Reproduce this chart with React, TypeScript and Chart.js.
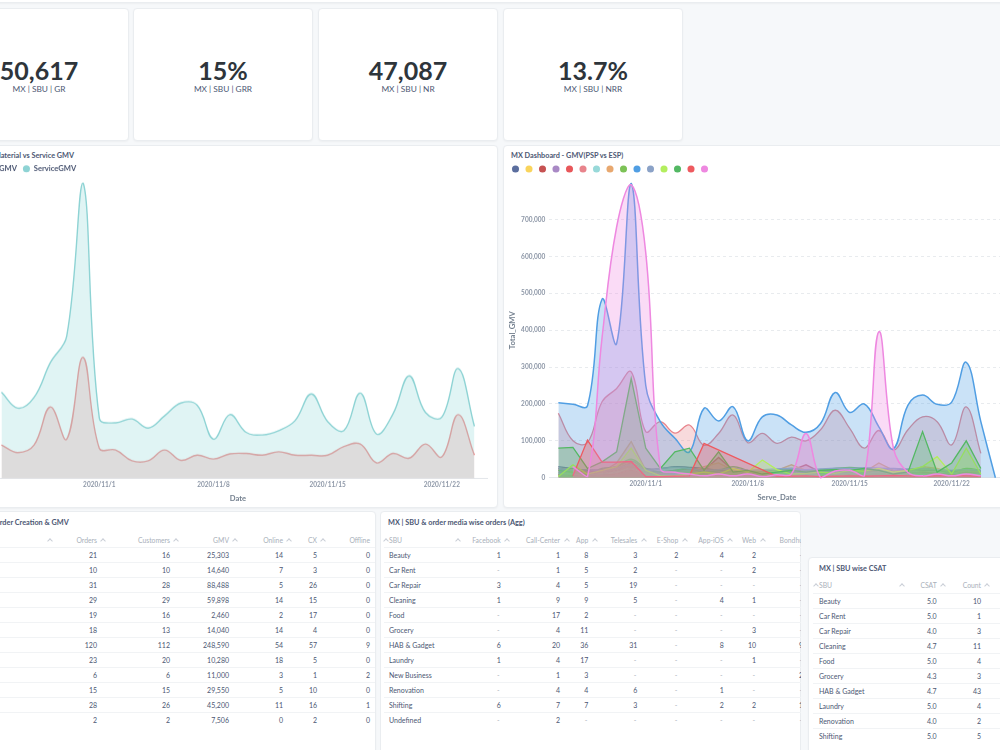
import React, { useEffect, useRef } from 'react';
import { Chart, registerables } from 'chart.js';
Chart.register(...registerables);

const FONT = 'Lato, "Noto Sans", sans-serif';
const BG = '#F6F8FA';
const INK = '#4C5773';
const TICK = '#8C96A6';

// ---------- KPI ----------
const kpiValues = ['50,617', '15%', '47,087', '13.7%'];
const kpiLabels = ['MX | SBU | GR', 'MX | SBU | GRR', 'MX | SBU | NR', 'MX | SBU | NRR'];

// ---------- dates ----------
const serveDates = [
  '2020/10/26', '2020/10/27', '2020/10/28', '2020/10/29', '2020/10/30', '2020/10/31',
  '2020/11/1', '2020/11/2', '2020/11/3', '2020/11/4', '2020/11/5', '2020/11/6', '2020/11/7',
  '2020/11/8', '2020/11/9', '2020/11/10', '2020/11/11', '2020/11/12', '2020/11/13', '2020/11/14',
  '2020/11/15', '2020/11/16', '2020/11/17', '2020/11/18', '2020/11/19', '2020/11/20', '2020/11/21',
  '2020/11/22', '2020/11/23', '2020/11/24', '2020/11/25',
];
const dateTickLabels = ['2020/11/1', '2020/11/8', '2020/11/15', '2020/11/22'];

// ---------- Material vs Service GMV (10/26 .. 11/24) ----------
const materialGMV = [77500, 60000, 77500, 166000, 91000, 281000, 70000, 66000, 41000, 41000, 66000, 42000, 54000, 45000, 57000, 58000, 54000, 62000, 54000, 54000, 54000, 74000, 80000, 36000, 58000, 47000, 80000, 50000, 148000, 54000];
const serviceGMV = [200000, 163000, 188000, 269000, 330000, 686000, 140000, 129000, 138000, 117000, 145000, 175000, 170000, 91000, 148000, 107000, 101000, 111000, 134000, 196000, 132000, 111000, 198000, 103000, 149000, 238000, 153000, 142000, 255000, 121000];

// ---------- GMV (PSP vs ESP), 15 series, values in thousands (10/26 .. 11/25) ----------
const psp01 = [30, 25, 20, 22, 30, 45, 25, 25, 30, 28, 25, 20, 18, 15, 18, 20, 22, 18, 20, 22, 20, 18, 22, 20, 22, 20, 20, 18, 20, 18, null];
const psp02 = [10, 15, 12, 10, 20, 40, 10, 8, 10, 12, 10, 15, 10, 8, 10, 12, 15, 10, 8, 10, 12, 10, 15, 12, 10, 12, 10, 8, 10, 8, null];
const psp03 = [25, 20, 15, 18, 25, 40, 20, 15, 20, 25, 20, 55, 20, 15, 12, 15, 20, 35, 15, 12, 15, 20, 18, 15, 12, 15, 12, 10, 15, 12, null];
const psp04 = [15, 12, 10, 15, 20, 35, 15, 10, 12, 10, 12, 15, 10, 12, 10, 15, 12, 10, 12, 15, 12, 10, 12, 10, 15, 12, 10, 12, 10, 12, null];
const psp05 = [8, 6, 5, 8, 10, 20, 8, 5, 6, 5, 8, 6, 5, 8, 6, 5, 8, 6, 5, 6, 8, 5, 6, 5, 8, 6, 5, 6, 8, 5, null];
const psp06 = [175, 100, 95, 206, 242, 287, 125, 152, 121, 143, 88, 120, 170, 95, 120, 93, 110, 100, 130, 183, 134, 80, 128, 75, 130, 165, 152, 89, 192, 66, null];
const psp07 = [12, 10, 8, 10, 15, 25, 10, 8, 10, 12, 8, 10, 12, 10, 8, 10, 12, 10, 8, 10, 12, 10, 15, 12, 10, 8, 3, 10, 8, 10, null];
const psp08 = [20, 15, 10, 15, 40, 98, 20, 10, 15, 15, 30, 40, 20, 15, 10, 20, 35, 20, 15, 15, 20, 15, 40, 20, 15, 30, 25, 15, 20, 15, null];
const psp09 = [20, 15, 10, 25, 30, 50, 25, 15, 20, 25, 15, 20, 30, 20, 15, 20, 25, 20, 22, 25, 28, 25, 20, 15, 20, 25, 20, 15, 25, 20, null];
const psp10 = [203, 199, 195, 484, 364, 798, 250, 152, 107, 70, 188, 154, 192, 100, 165, 170, 143, 123, 147, 231, 177, 200, 138, 78, 197, 224, 199, 205, 313, 152, 0];
const psp11 = [25, 20, 22, 20, 25, 35, 20, 25, 28, 25, 20, 22, 25, 20, 22, 24, 25, 22, 24, 26, 25, 27, 26, 25, 24, 25, 22, 20, 22, 20, null];
const psp12 = [3, 35, 10, 20, 30, 80, 20, 5, 5, 10, 15, 10, 25, 15, 48, 22, 10, 12, 15, 12, 20, 18, 25, 15, 20, 30, 57, 10, 80, 10, null];
const psp13 = [80, 82, 25, 43, 70, 269, 80, 25, 70, 80, 20, 70, 15, 20, 10, 15, 20, 15, 20, 22, 20, 25, 20, 10, 15, 125, 15, 40, 100, 25, null];
const psp14 = [null, 5, 102, 42, 42, 44, 3, 3, 4, 5, 93, null, null, null, null, 4, 4, 5, 3, 4, 5, 4, 5, 6, 5, 4, 5, 6, 5, 4, null];
const psp15 = [null, 30, 3, 380, 680, 795, 610, 25, 15, 10, 5, 10, 5, 10, 3, 8, 10, 120, 0, 18, 20, 5, 396, 80, 14, 5, 10, 5, 10, 5, null];
const pspSeries = [psp01, psp02, psp03, psp04, psp05, psp06, psp07, psp08, psp09, psp10, psp11, psp12, psp13, psp14, psp15];
const pspColors = ['#5B6E9E', '#F9D45C', '#C65252', '#A989C5', '#E8575A', '#E8848C', '#98D9D9', '#E8A86F', '#7CC256', '#509EE3', '#8BA2C7', '#B3EE5E', '#53B863', '#EE5A5F', '#EE88E0'];
const pspSmooth = [true, false, false, true, true, true, true, false, true, true, true, false, false, false, true];

// ---------- Tables ----------
const sbuNames = ['Beauty', 'Car Rent', 'Car Repair', 'Cleaning', 'Food', 'Grocery', 'HAB & Gadget', 'Laundry', 'New Business', 'Renovation', 'Shifting', 'Undefined'];
const orders = [21, 10, 31, 29, 19, 18, 120, 23, 6, 15, 28, 2];
const customers = [16, 10, 28, 29, 16, 13, 112, 20, 6, 15, 26, 2];
const gmv = [25303, 14640, 88488, 59898, 2460, 14040, 248590, 10280, 11000, 29550, 45200, 7506];
const online = [14, 7, 5, 14, 2, 14, 54, 18, 3, 5, 11, 0];
const cx = [5, 3, 26, 15, 17, 4, 57, 5, 1, 10, 16, 2];
const offline = [0, 0, 0, 0, 0, 0, 9, 0, 2, 0, 1, 0];

const mediaHeaders = ['Facebook', 'Call-Center', 'App', 'Telesales', 'E-Shop', 'App-iOS', 'Web', 'Bondhu'];
const facebook = [1, null, 3, 1, null, null, 6, 1, null, null, 6, null];
const callCenter = [1, 1, 4, 9, 17, 4, 20, 4, 1, 4, 7, 2];
const appOrders = [8, 5, 5, 9, 2, 11, 36, 17, 3, 4, 7, null];
const telesales = [3, 2, 19, 5, null, null, 31, null, null, 6, 3, null];
const eShop = [2, null, null, null, null, null, null, null, null, null, null, null];
const appIOS = [4, null, null, 4, null, null, 8, null, null, 1, 2, null];
const web = [2, 2, null, 1, null, 3, 10, 1, null, null, 2, null];
const bondhu = [null, null, null, null, null, null, 9, null, 2, null, 1, null];

const csatSbu = ['Beauty', 'Car Rent', 'Car Repair', 'Cleaning', 'Food', 'Grocery', 'HAB & Gadget', 'Laundry', 'Renovation', 'Shifting'];
const csatScore = [5.0, 5.0, 4.0, 4.7, 5.0, 4.3, 4.7, 5.0, 4.0, 5.0];
const csatCount = [10, 1, 3, 11, 4, 3, 43, 4, 2, 5];

// ---------- helpers ----------
const hexA = (hex: string, a: number) => {
  const n = parseInt(hex.slice(1), 16);
  return `rgba(${(n >> 16) & 255},${(n >> 8) & 255},${n & 255},${a})`;
};
const fmt = (v: number) => v.toLocaleString('en-US');
const tickValues = dateTickLabels.map((l) => serveDates.indexOf(l) + 1);

const legendLabels = (chart: any) => {
  const items = (Chart.defaults.plugins.legend.labels as any).generateLabels(chart);
  return items.map((it: any) => ({
    ...it,
    fillStyle: chart.data.datasets[it.datasetIndex].borderColor,
    strokeStyle: 'rgba(0,0,0,0)',
    lineWidth: 0,
    pointStyle: 'circle',
  }));
};

const tickFont = { family: FONT, size: 6.5, weight: 'bold' as const };
const titleFont = { family: FONT, size: 7.6, weight: 'bold' as const, lineHeight: 1 };

function xScale(min: number, max: number, title: string) {
  return {
    type: 'linear' as const,
    min,
    max,
    afterBuildTicks: (s: any) => {
      s.ticks = tickValues.map((v) => ({ value: v }));
    },
    afterFit: (s: any) => {
      s.height = 29.3;
    },
    ticks: {
      callback: (v: any) => serveDates[Math.round(Number(v)) - 1],
      font: tickFont,
      color: TICK,
      padding: 2.4,
      maxRotation: 0,
      autoSkip: false,
    },
    grid: { display: false, drawTicks: false },
    border: { display: true, color: '#E3E6EA' },
    title: { display: true, text: title, font: titleFont, color: '#74808F', padding: { top: 0, bottom: 5.5 } },
  };
}

function yScale(max: number, width: number, title?: string) {
  return {
    min: 0,
    max,
    afterBuildTicks: (s: any) => {
      s.ticks = s.ticks.filter((t: any) => t.value % 100000 === 0 && t.value <= 700000);
    },
    afterFit: (s: any) => {
      s.width = width;
    },
    ticks: { stepSize: 100000, font: tickFont, color: TICK, padding: 4, callback: (v: any) => fmt(Number(v)) },
    grid: { color: '#E8EBEE', drawTicks: false },
    border: { display: false, dash: [3, 3] },
    title: title
      ? { display: true, text: title, font: titleFont, color: '#74808F', padding: 0 }
      : { display: false },
  };
}

function leftConfig(): any {
  const MAT = '#EF8C8C';
  const SRV = '#8ED3D4';
  return {
    type: 'line',
    data: {
      datasets: [
        {
          label: 'MaterialGMV',
          data: materialGMV.map((v, i) => ({ x: i + 1, y: v })),
          borderColor: MAT,
          backgroundColor: hexA(MAT, 0.3),
          fill: 'origin',
          order: 1,
        },
        {
          label: 'ServiceGMV',
          data: serviceGMV.map((v, i) => ({ x: i + 1, y: v })),
          borderColor: SRV,
          backgroundColor: hexA('#98D9D9', 0.3),
          fill: 'origin',
          order: 0,
        },
      ],
    },
    options: {
      animation: false,
      responsive: true,
      maintainAspectRatio: false,
      layout: { padding: { left: 0, right: 9, top: 0, bottom: 0 } },
      elements: { point: { radius: 0, hoverRadius: 0 }, line: { tension: 0.4, borderWidth: 1.4 } },
      plugins: {
        legend: {
          position: 'top',
          align: 'start',
          reverse: true,
          labels: {
            usePointStyle: true,
            boxWidth: 7,
            boxHeight: 5,
            padding: 6,
            font: { family: FONT, size: 7.6, weight: 'bold' },
            color: INK,
            generateLabels: legendLabels,
          },
        },
        tooltip: { enabled: false },
      },
      scales: { x: xScale(0.21, 30.79, 'Date'), y: yScale(686000, 34.6) },
    },
  };
}

function rightConfig(): any {
  return {
    type: 'line',
    data: {
      datasets: pspSeries.map((vals, k) => ({
        label: '',
        data: vals.map((v, i) => ({ x: i + 1, y: v == null ? null : v * 1000 })),
        borderColor: pspColors[k],
        backgroundColor: hexA(pspColors[k], 0.3),
        fill: 'origin',
        tension: pspSmooth[k] ? 0.4 : 0,
        borderWidth: k === 9 || k === 14 ? 1.5 : 1.3,
        spanGaps: true,
        clip: false,
        order: pspSeries.length - 1 - k,
      })),
    },
    options: {
      animation: false,
      responsive: true,
      maintainAspectRatio: false,
      layout: { padding: { left: 0, right: 5, top: 0, bottom: 0 } },
      elements: { point: { radius: 0, hoverRadius: 0 } },
      plugins: {
        legend: {
          position: 'top',
          align: 'start',
          reverse: true,
          labels: {
            usePointStyle: true,
            boxWidth: 6.5,
            boxHeight: 5,
            padding: 3.25,
            font: { family: FONT, size: 7.5, weight: 'bold' },
            color: INK,
            generateLabels: legendLabels,
          },
        },
        tooltip: { enabled: false },
      },
      scales: { x: xScale(0.375, 31.625, 'Serve_Date'), y: yScale(800000, 40.25, 'Total_GMV') },
    },
  };
}

function ChartBox(props: { left: number; top: number; width: number; height: number; make: () => any }) {
  const ref = useRef<HTMLCanvasElement>(null);
  useEffect(() => {
    const c = new Chart(ref.current as HTMLCanvasElement, props.make());
    return () => c.destroy();
  }, []);
  return (
    <div style={{ position: 'absolute', left: props.left, top: props.top, width: props.width, height: props.height }}>
      <canvas ref={ref} />
    </div>
  );
}

function Card(props: { left: number; top: number; width: number; height: number }) {
  return (
    <div
      style={{
        position: 'absolute',
        left: props.left,
        top: props.top,
        width: props.width,
        height: props.height,
        background: '#fff',
        border: '1px solid #EAEDF0',
        borderRadius: 4,
        boxSizing: 'border-box',
        boxShadow: '0 1px 2px rgba(0,0,0,0.04)',
      }}
    />
  );
}

function Txt(props: {
  x: number;
  y: number;
  text: string;
  align?: 'left' | 'right' | 'center';
  size?: number;
  color?: string;
  weight?: number;
  w?: number;
}) {
  const align = props.align || 'left';
  const w = props.w || 220;
  const size = props.size || 7;
  const lh = Math.ceil(size * 1.4);
  const left = align === 'left' ? props.x : align === 'right' ? props.x - w : props.x - w / 2;
  return (
    <div
      style={{
        position: 'absolute',
        left,
        top: props.y - lh / 2,
        width: w,
        height: lh,
        lineHeight: lh + 'px',
        fontSize: size,
        color: props.color || INK,
        fontWeight: props.weight || 400,
        textAlign: align,
        whiteSpace: 'nowrap',
        fontFamily: FONT,
      }}
    >
      {props.text}
    </div>
  );
}

function Chevron(props: { x: number; y: number }) {
  return (
    <div
      style={{
        position: 'absolute',
        left: props.x - 1.5,
        top: props.y - 0.5,
        width: 3,
        height: 3,
        borderTop: '1px solid #C9CED6',
        borderLeft: '1px solid #C9CED6',
        transform: 'rotate(45deg)',
      }}
    />
  );
}

function HLine(props: { x1: number; x2: number; y: number }) {
  return (
    <div style={{ position: 'absolute', left: props.x1, top: props.y, width: props.x2 - props.x1, height: 1, background: '#F1F3F5' }} />
  );
}

const HEAD = '#A9B0BA';
const TITLE_SIZE = 7.3;

export default function App() {
  const kpiLeft = [-51, 133, 318, 503];

  // table 1 columns: right edges
  const t1Cols = [
    { h: 'Orders', x: 97, vals: orders.map(String) },
    { h: 'Customers', x: 170, vals: customers.map(String) },
    { h: 'GMV', x: 229, vals: gmv.map(fmt) },
    { h: 'Online', x: 283, vals: online.map(String) },
    { h: 'CX', x: 317, vals: cx.map(String) },
    { h: 'Offline', x: 370, vals: offline.map(String) },
  ];
  const mediaCols = [facebook, callCenter, appOrders, telesales, eShop, appIOS, web, bondhu];
  const mediaX = [500.7, 560, 588.3, 637.3, 678.3, 723.7, 756, 803];

  return (
    <div style={{ position: 'absolute', left: 0, top: 0, width: 1000, height: 750, overflow: 'hidden', background: BG, fontFamily: FONT }}>
      {/* previous row edge */}
      <Card left={-51} top={-40} width={1070} height={43} />

      {/* KPI cards */}
      {kpiLeft.map((l, i) => (
        <React.Fragment key={i}>
          <Card left={l} top={8} width={180} height={133} />
          <Txt x={l + 90} y={70} text={kpiValues[i]} align="center" size={25} weight={700} color="#2E353B" />
          <Txt x={l + 90} y={88.5} text={kpiLabels[i]} align="center" size={8.3} color={INK} />
        </React.Fragment>
      ))}

      {/* Left chart */}
      <Card left={-51} top={145} width={549} height={363} />
      <Txt x={-43} y={155.5} text="MX | SBU | Material vs Service GMV" size={TITLE_SIZE} weight={700} />
      <ChartBox left={-46.3} top={159.2} width={542.3} height={347.8} make={leftConfig} />

      {/* Right chart */}
      <Card left={503} top={145} width={520} height={363} />
      <Txt x={511} y={155.5} text="MX Dashboard - GMV(PSP vs ESP)" size={TITLE_SIZE} weight={700} />
      <ChartBox left={508.75} top={162} width={500.55} height={345} make={rightConfig} />

      {/* Table 1 */}
      <Card left={-51} top={511} width={427} height={300} />
      <Txt x={-43} y={522.7} text="MX | SBU | Order Creation & GMV" size={TITLE_SIZE} weight={700} />
      <Txt x={-52} y={540} text="SBU" size={6.8} color={HEAD} />
      <Chevron x={49} y={539} />
      {t1Cols.map((c, ci) => (
        <React.Fragment key={ci}>
          <Txt x={c.x} y={540} text={c.h} align="right" size={6.8} color={HEAD} />
          {ci < t1Cols.length - 1 && <Chevron x={c.x + 5} y={539} />}
          {c.vals.map((v, r) => (
            <Txt key={r} x={c.x} y={555 + r * 15} text={v} align="right" size={7} />
          ))}
        </React.Fragment>
      ))}
      {sbuNames.map((n, r) => (
        <React.Fragment key={r}>
          <HLine x1={-45} x2={375} y={547 + r * 15} />
          <Txt x={-52} y={555 + r * 15} text={n} size={7} />
        </React.Fragment>
      ))}

      {/* Table 2 */}
      <div style={{ position: 'absolute', left: 380, top: 511, width: 421, height: 300, overflow: 'hidden' }}>
        <div style={{ position: 'absolute', left: -380, top: -511, width: 1000, height: 900 }}>
          <Card left={380} top={511} width={421} height={300} />
          <Txt x={388} y={522.7} text="MX | SBU & order media wise orders (Agg)" size={TITLE_SIZE} weight={700} />
          <Chevron x={385} y={539} />
          <Txt x={389} y={540} text="SBU" size={6.8} color={HEAD} />
          <Chevron x={457} y={539} />
          {mediaHeaders.map((h, ci) => (
            <React.Fragment key={ci}>
              <Txt x={mediaX[ci]} y={540} text={h} align="right" size={6.8} color={HEAD} />
              <Chevron x={mediaX[ci] + 6} y={539} />
              {mediaCols[ci].map((v, r) => (
                <Txt
                  key={r}
                  x={v == null ? mediaX[ci] - 1 : mediaX[ci]}
                  y={555 + r * 15}
                  text={v == null ? '-' : String(v)}
                  align="right"
                  size={7}
                  color={v == null ? '#A9B0BA' : INK}
                />
              ))}
            </React.Fragment>
          ))}
          {sbuNames.map((n, r) => (
            <React.Fragment key={r}>
              <HLine x1={384} x2={801} y={547 + r * 15} />
              <Txt x={389} y={555 + r * 15} text={n} size={7} />
            </React.Fragment>
          ))}
        </div>
      </div>

      {/* CSAT table */}
      <Card left={808} top={557} width={220} height={250} />
      <Txt x={819} y={568} text="MX | SBU wise CSAT" size={TITLE_SIZE} weight={700} />
      <Chevron x={815} y={584} />
      <Txt x={819} y={585} text="SBU" size={6.8} color={HEAD} />
      <Chevron x={901} y={584} />
      <Txt x={936.7} y={585} text="CSAT" align="right" size={6.8} color={HEAD} />
      <Chevron x={942.7} y={584} />
      <Txt x={981} y={585} text="Count" align="right" size={6.8} color={HEAD} />
      <Chevron x={986.7} y={584} />
      {csatSbu.map((n, r) => (
        <React.Fragment key={r}>
          <HLine x1={813} x2={1000} y={592.5 + r * 15} />
          <Txt x={819} y={600.7 + r * 15} text={n} size={7} />
          <Txt x={936.7} y={600.7 + r * 15} text={csatScore[r].toFixed(1)} align="right" size={7} />
          <Txt x={981} y={600.7 + r * 15} text={String(csatCount[r])} align="right" size={7} />
        </React.Fragment>
      ))}
    </div>
  );
}
